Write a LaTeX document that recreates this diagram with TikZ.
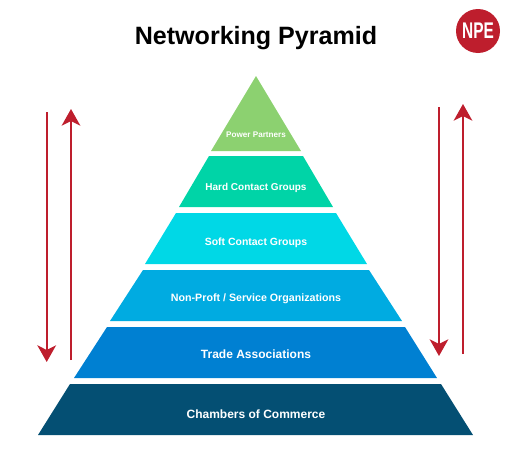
\documentclass[tikz,border=0pt]{standalone}
\usepackage{fontspec}
\setmainfont{Liberation Sans}
\usetikzlibrary{arrows.meta,
                positioning}
\definecolor{npered}{HTML}{BE1E2D}
\definecolor{tiergreen}{HTML}{8CD170}
\definecolor{tierteal}{HTML}{00D4A7}
\definecolor{tiercyan}{HTML}{00D8E6}
\definecolor{tiersky}{HTML}{00ABE1}
\definecolor{tierblue}{HTML}{0080D2}
\definecolor{tierdark}{HTML}{044F73}

\begin{document}
\begin{tikzpicture}[
        x=0.75pt, y=-0.75pt,
        tierlabel/.style={text=white, font=\bfseries\fontsize{#1}{11}\selectfont, inner sep=0pt},
        flow/.style={arrows=-{Stealth[length=12.5pt, width=14pt, inset=3.5pt]}, draw=npered, line width=1.5pt}
        ]
        \useasboundingbox (0,0) rectangle (512,468);

        \fill [tiergreen] (256,76)  -- (301,151) -- (211,151) -- cycle;
        \fill [tierteal]  (209,156) -- (303,156) -- (333,207) -- (179,207) -- cycle;
        \fill [tiercyan]  (176,213) -- (336,213) -- (367,264) -- (145,264) -- cycle;
        \fill [tiersky]   (143,270) -- (369,270) -- (402,321) -- (110,321) -- cycle;
        \fill [tierblue]  (107,327) -- (405,327) -- (437,378) -- (74,378)  -- cycle;
        \fill [tierdark]  (70,384)  -- (441,384) -- (473,435) -- (38,435)  -- cycle;

        \node (title)    at (256,38.5) [font=\bfseries\fontsize{18.8}{24}\selectfont] {Networking Pyramid};
        \node (power)    at (256,135)  [tierlabel=6.1] {Power Partners};
        \node (hard)     at (256,188)  [tierlabel=7.5] {Hard Contact Groups};
        \node (soft)     at (256,243)  [tierlabel=7.85] {Soft Contact Groups};
        \node (service)  at (256,299)  [tierlabel=8] {Non-Proft / Service Organizations};
        \node (trade)    at (256,354)  [tierlabel=9] {Trade Associations};
        \node (chambers) at (256,414)  [tierlabel=9] {Chambers of Commerce};

        \node (logo) at (478,31) [circle, fill=npered, minimum size=33pt, inner sep=0pt] {};
        \node (npe)  at (logo.center) [text=white, xscale=0.68, font=\bfseries\fontsize{17}{20}\selectfont, inner sep=0pt] {NPE};

        \coordinate (downLa) at (46.7,112);
        \coordinate (downLb) at (46.7,362);
        \coordinate (upLa)   at (71,360);
        \coordinate (upLb)   at (71,109);
        \coordinate (downRa) at (439,107);
        \coordinate (downRb) at (439,356);
        \coordinate (upRa)   at (463,354);
        \coordinate (upRb)   at (463,104);

        \draw [flow] (downLa) -- (downLb);
        \draw [flow] (upLa)   -- (upLb);
        \draw [flow] (downRa) -- (downRb);
        \draw [flow] (upRa)   -- (upRb);

    \end{tikzpicture}
\end{document}
